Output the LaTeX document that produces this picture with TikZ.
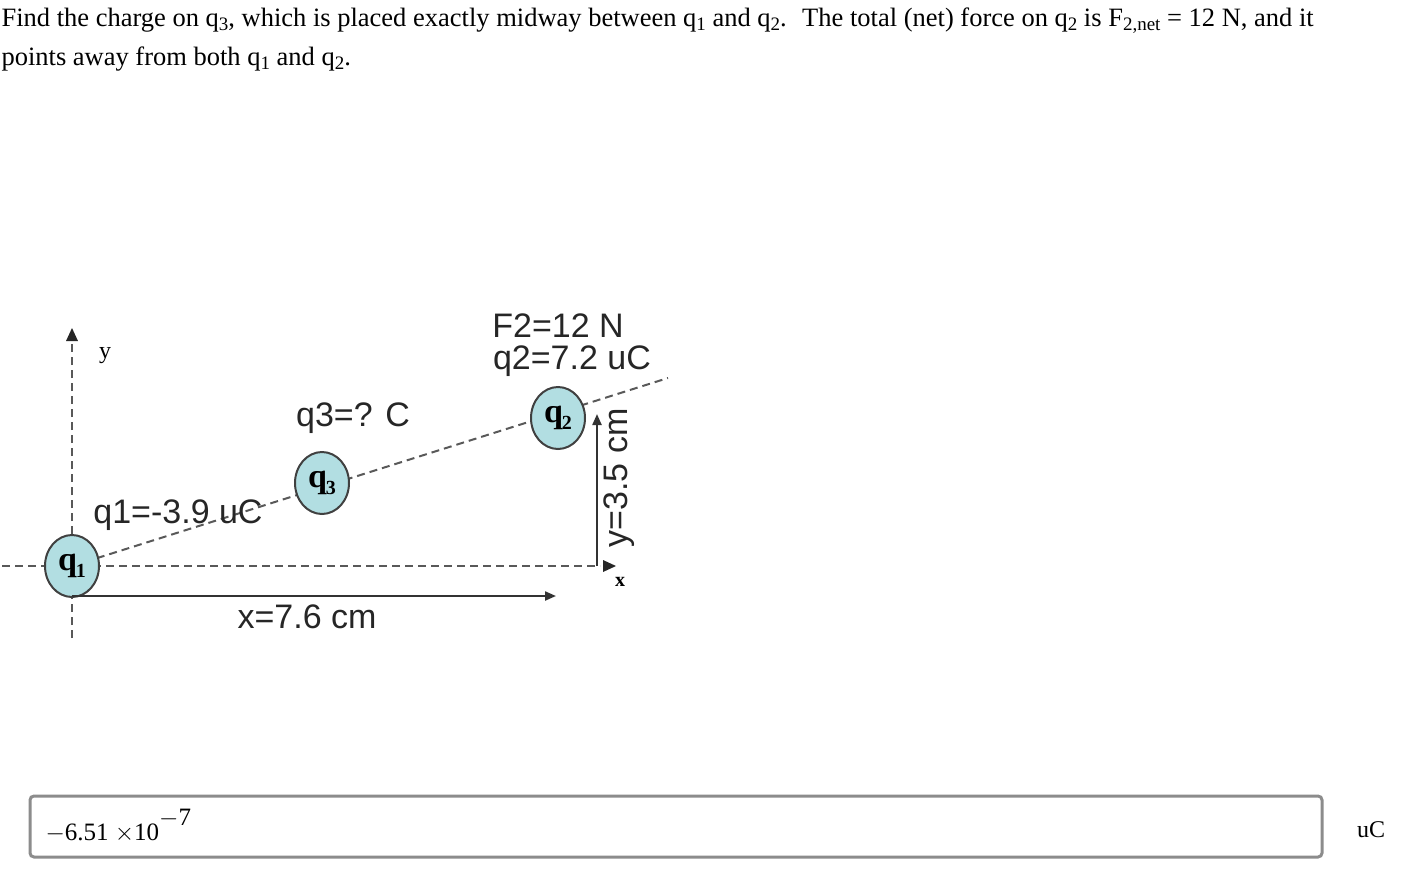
\documentclass[tikz,border=0pt]{standalone}
\usepackage{fontspec}
\setmainfont{Liberation Serif}
\newfontfamily\lsans{Liberation Sans}
\usetikzlibrary{arrows.meta,shapes.geometric}
\definecolor{chg}{RGB}{178,222,226}
\newcommand{\lowsub}[1]{\raisebox{-0.35ex}{\fontsize{19}{19}\selectfont #1}}
\newcommand{\qsub}[1]{q\kern-1pt\raisebox{-7pt}{\fontsize{20}{20}\selectfont #1}}
\tikzset{
  charge/.style={ellipse,draw=black!75,line width=2pt,fill=chg,minimum width=54pt,minimum height=62pt,inner sep=0pt,font=\fontsize{34}{34}\selectfont\bfseries},
  dline/.style={draw=black!65,line width=2pt,dash pattern=on 8pt off 5pt},
  lab/.style={font=\lsans\fontsize{34}{36}\selectfont,text=black!85},
  arr/.style={line width=2.2pt,draw=black!80,-{Triangle[length=11pt,width=9pt]}},
  qtext/.style={anchor=west,font=\fontsize{26.5}{30}\selectfont}
}
\begin{document}
\begin{tikzpicture}[x=1pt,y=-1pt]
\useasboundingbox (0,0) rectangle (1404,870);
\node[qtext] (t1) at (-2,21) {Find the charge on q\lowsub{3}, which is placed exactly midway between q\lowsub{1} and q\lowsub{2}.~ The total (net) force on q\lowsub{2} is F\lowsub{2,net} = 12 N, and it};
\node[qtext] (t2) at (-2,59) {points away from both q\lowsub{1} and q\lowsub{2}.};
% axes
\coordinate (xl) at (2,566); \coordinate (xr) at (614,566);
\coordinate (yb) at (72,638); \coordinate (yt) at (72,328);
\draw[dline] (xl) -- (600,566);
\fill[black!85] (616,566) -- (603,560) -- (603,572) -- cycle;
\draw[dline] (yb) -- (72,342);
\fill[black!85] (72,328) -- (66,341) -- (78,341) -- cycle;
\node[font=\fontsize{24}{24}\selectfont] (ylab) at (105,356) {y};
\node[font=\fontsize{20}{20}\selectfont\bfseries] (xlab) at (620,582) {x};
\coordinate (de) at (668,378);
\draw[dline] (72,566) -- (de);
% charges
\node[charge] (q1) at (72,566) {\qsub{1}};
\node[charge] (q3) at (322,483) {\qsub{3}};
\node[charge] (q2) at (558,418) {\qsub{2}};
% arrows
\coordinate (a1) at (72,596); \coordinate (a2) at (556,596);
\draw[arr] (a1) -- (a2);
\coordinate (b1) at (597,566); \coordinate (b2) at (597,414);
\draw[arr] (b1) -- (b2);
\node[lab] (xd) at (307,617) {x=7.6 cm};
\node[lab,rotate=90] (yd) at (619,478) {y=3.5 cm};
\node[lab] (l1) at (178,515) {q1=-3.9 uC};
\node[lab] (l3) at (353,418) {q3=? C};
\node[lab] (f2) at (558,326) {F2=12 N};
\node[lab] (l2) at (572,361) {q2=7.2 uC};
% answer
\draw[rounded corners=4pt,line width=3pt,draw=black!45] (30,796) rectangle (1322,857);
\node[anchor=west,font=\fontsize{25}{28}\selectfont] (ans) at (42,826) {$-$6.51 $\times$10\raisebox{1.3ex}{$-$7}};
\node[font=\fontsize{24}{28}\selectfont] (u) at (1371,830) {uC};
\end{tikzpicture}
\end{document}
